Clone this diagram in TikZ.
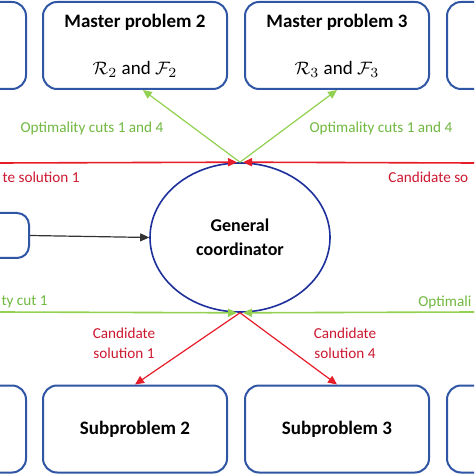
\documentclass[tikz,border=0pt]{standalone}
\usepackage{fontspec}
\setmainfont{Carlito}
\usepackage{tikz}
\usetikzlibrary{shapes.geometric, arrows.meta, positioning}
\definecolor{Azul}{RGB}{47, 85, 165}
\definecolor{AzulOsc}{RGB}{30, 48, 155}
\definecolor{Verde}{RGB}{146, 208, 80}
\definecolor{VerdeTxt}{RGB}{112, 184, 64}
\definecolor{Rojo}{RGB}{230, 28, 40}
\definecolor{RojoTxt}{RGB}{204, 24, 48}

\begin{document}
\begin{tikzpicture}[x=0.5pt, y=-0.5pt,
        probbox/.style={rectangle, rounded corners=7pt, draw=Azul, line width=1pt, fill=white, minimum width=92pt, minimum height=43.5pt, align=center, font=\fontsize{9.5}{11.5}\selectfont\bfseries},
        inbox/.style={rectangle, rounded corners=6pt, draw=Azul, line width=1pt, fill=white, minimum width=40pt, minimum height=22.5pt},
        coordnode/.style={ellipse, draw=AzulOsc, line width=0.8pt, fill=white, minimum width=90pt, minimum height=74.5pt, align=center, font=\fontsize{9}{12}\selectfont\bfseries},
        flecha/.style={-{Triangle[length=4.5pt, width=4pt]}},
        optline/.style={draw=Verde, line width=0.6pt, flecha},
        candline/.style={draw=Rojo, line width=0.6pt, flecha},
        optlabel/.style={text=VerdeTxt, inner sep=0pt, font=\fontsize{7.6}{10}\selectfont},
        candlabel/.style={text=RojoTxt, inner sep=0pt, align=center, font=\fontsize{7.6}{10}\selectfont}
    ]%
        \useasboundingbox (0,0) rectangle (474,474);
        \clip (0,0) rectangle (474,474);
        % ================= MASTER PROBLEMS (FILA SUPERIOR) =================
        \node[probbox] (mp1) at (-66, 45.5) {};
        \node[probbox] (mp2) at (135, 45.5) {Master problem 2\\[12pt]{\mdseries $\mathcal{R}_2$ and $\mathcal{F}_2$}};
        \node[probbox] (mp3) at (337, 45.5) {Master problem 3\\[12pt]{\mdseries $\mathcal{R}_3$ and $\mathcal{F}_3$}};
        \node[probbox] (mp4) at (539, 45.5) {};
        % ================= SUBPROBLEMS (FILA INFERIOR) =================
        \node[probbox] (sp1) at (-66, 429) {};
        \node[probbox] (sp2) at (135, 429) {Subproblem 2};
        \node[probbox] (sp3) at (337, 429) {Subproblem 3};
        \node[probbox] (sp4) at (539, 429) {};
        % ================= COORDINADOR CENTRAL =================
        \node[coordnode] (coord) at (240, 237.5) {General\\coordinator};
        \node[inbox] (inp) at (-11, 235.5) {};
        % extremos libres de las lineas horizontales
        \coordinate (redL) at (0, 163);
        \coordinate (redR) at (474, 163);
        \coordinate (grnL) at (0, 312);
        \coordinate (grnR) at (474, 312);
        % ================= CONEXIONES SUPERIORES =================
        \draw[candline, line width=0.8pt] (redL) -- ([xshift=-1.5pt]coord.north);
        \draw[candline, line width=0.8pt] (redR) -- ([xshift=1.5pt]coord.north);
        \draw[optline] (coord.north) -- (mp2.-80);
        \draw[optline] (coord.north) -- (mp3.south);
        % ================= CONEXIONES INFERIORES =================
        \draw[optline, line width=0.8pt] (grnL) -- ([xshift=-1.5pt]coord.south);
        \draw[optline, line width=0.8pt] (grnR) -- ([xshift=1.5pt]coord.south);
        \draw[candline] (coord.south) -- (sp2.north);
        \draw[candline] (coord.south) -- (sp3.north);
        \draw[black!80, line width=0.6pt, flecha] (inp.east) -- (coord.west);
        % ================= ETIQUETAS =================
        \node[optlabel] (ocL) at (92, 128) {Optimality cuts 1 and 4};
        \node[optlabel] (ocR) at (381, 128) {Optimality cuts 1 and 4};
        \node[candlabel, anchor=east] (csL) at (80, 177) {te solution 1};
        \node[candlabel, anchor=west] (csR) at (388, 177) {Candidate so};
        \node[optlabel, anchor=east] (oL) at (48, 302) {ty cut 1};
        \node[optlabel, anchor=west] (oR) at (418, 302) {Optimali};
        \node[candlabel] (cs1) at (124, 343) {Candidate\\solution 1};
        \node[candlabel] (cs4) at (345, 343) {Candidate\\solution 4};
    \end{tikzpicture}
\end{document}
